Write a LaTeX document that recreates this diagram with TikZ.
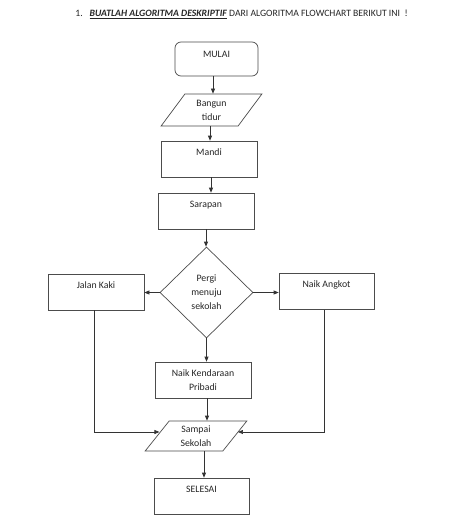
\documentclass[tikz,border=0pt]{standalone}
\usepackage{fontspec}
\setmainfont{Carlito}
\usetikzlibrary{shapes.geometric,arrows.meta,positioning,calc}
\begin{document}
\begin{tikzpicture}[x=1pt,y=-1pt,
  line width=0.7pt,
  txt/.style={font=\fontsize{9.8}{14}\selectfont, text=black!85},
  topbox/.style={txt, draw=black!70, rectangle, inner xsep=2pt, inner ysep=3pt,
     text height=11pt, text depth=19pt, minimum width=96pt, minimum height=36pt},
  midbox/.style={txt, draw=black!70, rectangle, align=center, minimum width=96pt, minimum height=36pt, inner sep=1pt},
  para/.style={txt, draw=black!70, trapezium, trapezium left angle=56.5, trapezium right angle=123.5,
     align=center, inner sep=0pt, trapezium stretches=true},
  dec/.style={txt, draw=black!70, diamond, align=center, inner sep=0pt, minimum width=93pt, minimum height=91pt},
  arr/.style={draw=black!80, line width=0.7pt, -{Triangle[length=5pt,width=4pt]}},
  ln/.style={draw=black!70, line width=0.7pt}]
\useasboundingbox (0,0) rectangle (474,527);
\fill[white] (0,0) rectangle (474,527);

\node[anchor=base west, inner sep=0pt, font=\fontsize{9.7}{12}\selectfont, text=black!85] (title) at (75,17)
  {1.\hspace{7pt}\underline{\textbf{\textit{BUATLAH ALGORITMA DESKRIPTIF}}} DARI ALGORITMA FLOWCHART BERIKUT INI\ \ !};

\node[topbox, rounded corners=6pt, minimum width=83pt, minimum height=34pt, text height=13pt, text depth=15pt] (mulai) at (216.5,59) {MULAI};
\node[para, minimum width=101pt, minimum height=32pt] (bangun) at (211.5,110) {Bangun\\tidur};
\node[topbox] (mandi) at (209,159) {Mandi};
\node[topbox] (sarapan) at (206,211) {Sarapan};
\node[dec] (pergi) at (206.5,292.5) {Pergi\\menuju\\sekolah};
\node[topbox] (jalan) at (96,292) {Jalan Kaki};
\node[topbox, minimum width=95pt, minimum height=35pt] (angkot) at (326.5,291.5) {Naik Angkot};
\node[midbox] (pribadi) at (203,380) {Naik Kendaraan\\Pribadi};
\node[para, minimum width=102pt, minimum height=30pt] (sampai) at (196,436) {Sampai\\Sekolah};
\node[topbox, minimum width=95pt] (selesai) at (201.5,496) {SELESAI};

\draw[arr] ([xshift=-3.5pt]mulai.south) -- ([xshift=-3.5pt]mulai.south |- bangun.north);
\draw[arr] ([xshift=-1.5pt]bangun.south) -- ([xshift=-1.5pt]bangun.south |- mandi.north);
\draw[arr] ([xshift=2pt]mandi.south) -- ([xshift=2pt]mandi.south |- sarapan.north);
\draw[arr] (sarapan.south) -- (sarapan.south |- pergi.north);
\draw[arr] (pergi.west) -- (pergi.west -| jalan.east);
\draw[arr] (pergi.east) -- (pergi.east -| angkot.west);
\draw[arr] (pergi.south) -- (pergi.south |- pribadi.north);
\draw[arr] ([xshift=4pt]pribadi.south) -- ([xshift=4pt]pribadi.south |- sampai.north);
\coordinate (sl) at ($(sampai.west)+(2.7,-4)$);
\coordinate (sr) at ($(sampai.east)+(2.7,-4)$);
\draw[arr] ([xshift=-2pt]jalan.south) |- (sl);
\draw[arr] ([xshift=-2.5pt]angkot.south) |- (sr);
\draw[arr] ([xshift=8pt]sampai.south) -- ([xshift=8pt]sampai.south |- selesai.north);
\end{tikzpicture}
\end{document}
